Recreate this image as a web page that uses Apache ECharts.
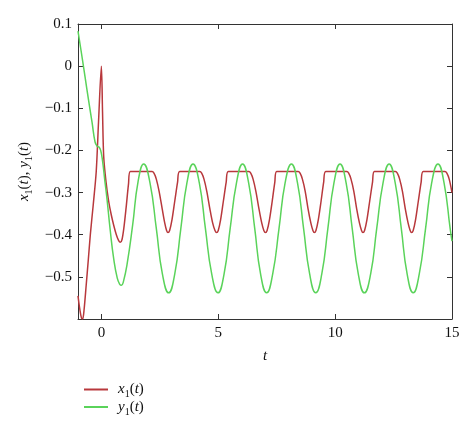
<!DOCTYPE html>
<html>
<head>
<meta charset="utf-8">
<script src="https://cdn.jsdelivr.net/npm/echarts@6/dist/echarts.min.js"></script>
<style>
  html, body { margin: 0; padding: 0; background: #fff; }
  #chart { width: 474px; height: 432px; }
</style>
</head>
<body>
<div id="chart"></div>
<script>
// x1(t)
const x1T = [-1, -0.92, -0.85, -0.8, -0.74, -0.65, -0.56, -0.47, -0.35, -0.22, -0.12, 0, 0.05, 0.1, 0.2, 0.31, 0.42, 0.53, 0.64, 0.74, 0.81, 0.88, 0.96, 1.06, 1.16, 1.24,
  2.17, 2.25, 2.35, 2.47, 2.6, 2.71, 2.79, 2.85, 2.92, 3.02, 3.14, 3.26, 3.35,
  4.21, 4.29, 4.39, 4.51, 4.64, 4.76, 4.86, 4.93, 5.0, 5.1, 5.22, 5.34, 5.43,
  6.31, 6.39, 6.49, 6.61, 6.74, 6.86, 6.95, 7.02, 7.09, 7.19, 7.31, 7.42, 7.5,
  8.42, 8.5, 8.6, 8.72, 8.84, 8.96, 9.05, 9.11, 9.18, 9.28, 9.4, 9.51, 9.6,
  10.5, 10.58, 10.68, 10.8, 10.92, 11.04, 11.13, 11.19, 11.26, 11.36, 11.48, 11.6, 11.68,
  12.58, 12.66, 12.76, 12.88, 13.0, 13.12, 13.21, 13.27, 13.34, 13.44, 13.56, 13.68, 13.77,
  14.7, 14.78, 14.88, 15]
const x1V = [-0.545, -0.578, -0.598, -0.6, -0.578, -0.52, -0.46, -0.398, -0.33, -0.25, -0.13, 0, -0.11, -0.215, -0.275, -0.32, -0.352, -0.378, -0.4, -0.414, -0.418, -0.412, -0.385, -0.335, -0.28, -0.25,
  -0.25, -0.254, -0.268, -0.297, -0.338, -0.372, -0.39, -0.395, -0.39, -0.365, -0.32, -0.275, -0.25,
  -0.25, -0.254, -0.268, -0.297, -0.338, -0.372, -0.39, -0.395, -0.39, -0.365, -0.32, -0.275, -0.25,
  -0.25, -0.254, -0.268, -0.297, -0.338, -0.372, -0.39, -0.395, -0.39, -0.365, -0.32, -0.275, -0.25,
  -0.25, -0.254, -0.268, -0.297, -0.338, -0.372, -0.39, -0.395, -0.39, -0.365, -0.32, -0.275, -0.25,
  -0.25, -0.254, -0.268, -0.297, -0.338, -0.372, -0.39, -0.395, -0.39, -0.365, -0.32, -0.275, -0.25,
  -0.25, -0.254, -0.268, -0.297, -0.338, -0.372, -0.39, -0.395, -0.39, -0.365, -0.32, -0.275, -0.25,
  -0.25, -0.254, -0.268, -0.3]

// y1(t)
const y1T = [-1, -0.85, -0.7, -0.55, -0.4, -0.27, -0.18, -0.1, -0.03, 0.05, 0.14, 0.24, 0.38, 0.53, 0.68, 0.78, 0.86, 0.94, 1.1, 1.34, 1.57, 1.81,
  2.08, 2.35, 2.61, 2.88, 3.14, 3.4, 3.66, 3.92,
  4.19, 4.45, 4.72, 4.99, 5.25, 5.51, 5.78, 6.04,
  6.3, 6.56, 6.81, 7.07, 7.33, 7.6, 7.86, 8.13,
  8.39, 8.65, 8.91, 9.17, 9.43, 9.69, 9.95, 10.21,
  10.47, 10.73, 10.99, 11.25, 11.52, 11.78, 12.05, 12.31,
  12.57, 12.83, 13.08, 13.34, 13.6, 13.87, 14.13, 14.4,
  14.66, 14.92, 15]
const y1V = [0.083, 0.03, -0.025, -0.08, -0.133, -0.18, -0.19, -0.192, -0.2, -0.225, -0.268, -0.315, -0.39, -0.458, -0.503, -0.517, -0.52, -0.512, -0.47, -0.376, -0.274, -0.232,
  -0.277, -0.385, -0.493, -0.538, -0.493, -0.385, -0.277, -0.232,
  -0.277, -0.385, -0.493, -0.538, -0.493, -0.385, -0.277, -0.232,
  -0.277, -0.385, -0.493, -0.538, -0.493, -0.385, -0.277, -0.232,
  -0.277, -0.385, -0.493, -0.538, -0.493, -0.385, -0.277, -0.232,
  -0.277, -0.385, -0.493, -0.538, -0.493, -0.385, -0.277, -0.232,
  -0.277, -0.385, -0.493, -0.538, -0.493, -0.385, -0.277, -0.232,
  -0.277, -0.385, -0.415]

const xTicks = [0, 5, 10, 15]
const yTicks = [0.1, 0, -0.1, -0.2, -0.3, -0.4, -0.5]

const serif = 'Liberation Serif'
const richText = {
  i: { fontFamily: serif, fontStyle: 'italic', fontSize: 15, lineHeight: 20, color: '#111', verticalAlign: 'middle' },
  n: { fontFamily: serif, fontSize: 15, lineHeight: 20, color: '#111', verticalAlign: 'middle' },
  s: { fontFamily: serif, fontSize: 10, lineHeight: 12, color: '#111', verticalAlign: 'bottom' }
}

function zip(ts, vs) {
  return ts.map((t, k) => [t, vs[k]])
}

function fmtY(v) {
  if (Math.abs(v) < 1e-9) return '0'
  return v < 0 ? '\u2212' + Math.abs(v).toFixed(1) : v.toFixed(1)
}

const axisLine = { show: true, onZero: false, lineStyle: { color: '#333', width: 1 } }
const tick = { show: true, inside: true, length: 5, lineStyle: { color: '#333' } }

const chart = echarts.init(document.getElementById('chart'))
chart.setOption({
  animation: false,
  backgroundColor: '#fff',
  grid: { left: 78, top: 24, right: 22, bottom: 113 },
  legend: {
    orient: 'vertical',
    left: 79,
    top: 377,
    itemWidth: 24,
    itemHeight: 2,
    itemGap: 0,
    icon: 'rect',
    textStyle: { rich: richText, padding: [0, 0, 0, 5] },
    formatter: name => name === 'x1' ? '{i|x}{s|1}{n|(}{i|t}{n|)}' : '{i|y}{s|1}{n|(}{i|t}{n|)}'
  },
  xAxis: [
    {
      type: 'value', min: -1, max: 15, position: 'bottom',
      name: 't', nameLocation: 'middle', nameGap: 30,
      nameTextStyle: { fontFamily: serif, fontStyle: 'italic', fontSize: 15, color: '#111' },
      axisLine: axisLine,
      axisTick: Object.assign({ customValues: xTicks }, tick),
      axisLabel: { customValues: xTicks, fontFamily: serif, fontSize: 15, color: '#111', margin: 7 },
      splitLine: { show: false }
    },
    {
      type: 'value', min: -1, max: 15, position: 'top',
      axisLine: axisLine,
      axisTick: Object.assign({ customValues: xTicks }, tick),
      axisLabel: { show: false },
      splitLine: { show: false }
    }
  ],
  yAxis: [
    {
      type: 'value', min: -0.6, max: 0.1, position: 'left',
      name: '{i|x}{s|1}{n|(}{i|t}{n|), }{i|y}{s|1}{n|(}{i|t}{n|)}',
      nameLocation: 'middle', nameGap: 39,
      nameTextStyle: { rich: richText },
      axisLine: axisLine,
      axisTick: Object.assign({ customValues: yTicks }, tick),
      axisLabel: { customValues: yTicks, formatter: fmtY, fontFamily: serif, fontSize: 15, color: '#111', margin: 6 },
      splitLine: { show: false }
    },
    {
      type: 'value', min: -0.6, max: 0.1, position: 'right',
      axisLine: axisLine,
      axisTick: Object.assign({ customValues: yTicks }, tick),
      axisLabel: { show: false },
      splitLine: { show: false }
    }
  ],
  series: [
    {
      name: 'x1', type: 'line', data: zip(x1T, x1V),
      showSymbol: false, smooth: 0.3, clip: true,
      lineStyle: { color: '#b8383c', width: 1.5 }, itemStyle: { color: '#b8383c' }
    },
    {
      name: 'y1', type: 'line', data: zip(y1T, y1V),
      showSymbol: false, smooth: 0.5, clip: true,
      lineStyle: { color: '#5ad35a', width: 1.5 }, itemStyle: { color: '#5ad35a' }
    }
  ]
})
</script>
</body>
</html>
